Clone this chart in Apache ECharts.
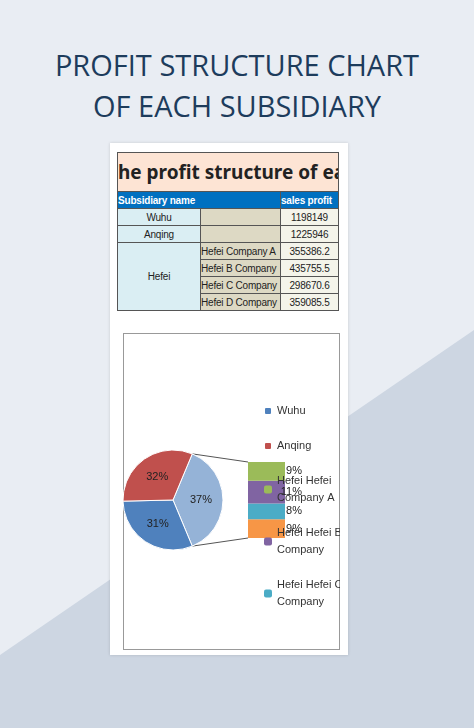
<!DOCTYPE html>
<html><head><meta charset="utf-8">
<script src="https://cdn.jsdelivr.net/npm/echarts@6/dist/echarts.min.js"></script>
<style>
body{margin:0;width:474px;height:728px;position:relative;overflow:hidden;background:#e9edf3;font-family:"Noto Sans","Open Sans",sans-serif}
#diag{position:absolute;left:0;top:0;width:474px;height:728px;background:#cdd6e2;clip-path:polygon(474px 330px,474px 728px,0 728px,0 655px)}
#title{position:absolute;left:0;width:474px;top:44px;text-align:center;color:#1d3c5c;font-size:29px;line-height:41px;font-family:"Open Sans",sans-serif}
#card{position:absolute;left:110px;top:143px;width:238px;height:512px;background:#fff;box-shadow:0 0 3px rgba(0,0,0,0.15)}
#tbl{position:absolute;left:117px;top:152px;width:221px;border-collapse:collapse;table-layout:fixed;font-size:10px;letter-spacing:-0.2px;color:#222;font-family:"Liberation Sans",sans-serif}
#tbl td{border:1px solid #555;height:16px;padding:0;white-space:nowrap;overflow:hidden;text-align:center}
#chartbox{position:absolute;left:123px;top:333px;width:217px;height:317px;border:1px solid #999;box-sizing:border-box}
#chart{position:absolute;left:123px;top:333px;width:217px;height:317px}
</style></head><body>
<div id="diag"></div>
<div id="title">PROFIT STRUCTURE CHART<br>OF EACH SUBSIDIARY</div>
<div id="card"></div>
<table id="tbl">
<colgroup><col style="width:83px"><col style="width:80px"><col style="width:58px"></colgroup>
<tr><td colspan="3" style="height:38px;background:#fde4d4;font-weight:bold;font-size:19px;letter-spacing:0;text-align:left;text-indent:-11px;font-family:'Noto Sans',sans-serif">The profit structure of each subsidiary</td></tr>
<tr><td colspan="2" style="background:#0070c0;color:#fff;font-weight:bold;text-align:left">Subsidiary name</td><td style="background:#0070c0;color:#fff;font-weight:bold;text-align:left">sales profit</td></tr>
<tr><td style="background:#daeef3">Wuhu</td><td style="background:#ddd9c4"></td><td style="background:#f4f4ea">1198149</td></tr>
<tr><td style="background:#daeef3">Anqing</td><td style="background:#ddd9c4"></td><td style="background:#f4f4ea">1225946</td></tr>
<tr><td rowspan="4" style="background:#daeef3">Hefei</td><td style="background:#ddd9c4;text-align:left">Hefei Company A</td><td style="background:#f4f4ea">355386.2</td></tr>
<tr><td style="background:#ddd9c4;text-align:left">Hefei B Company</td><td style="background:#f4f4ea">435755.5</td></tr>
<tr><td style="background:#ddd9c4;text-align:left">Hefei C Company</td><td style="background:#f4f4ea">298670.6</td></tr>
<tr><td style="background:#ddd9c4;text-align:left">Hefei D Company</td><td style="background:#f4f4ea">359085.5</td></tr>
</table>
<div id="chartbox"></div>
<div id="chart"></div>
<script>
const mainNames=['Wuhu','Anqing'];
const mainValues=[1198149,1225946];
const subNames=['Hefei Hefei Company A','Hefei Hefei B Company','Hefei Hefei C Company','Hefei Hefei D Company'];
const subValues=[355386.2,435755.5,298670.6,359085.5];
const colors={'Wuhu':'#4f81bd','Anqing':'#c0504d','Hefei':'#95b3d7','Hefei Hefei Company A':'#9bbb59','Hefei Hefei B Company':'#8064a2','Hefei Hefei C Company':'#4bacc6','Hefei Hefei D Company':'#f79646'};
const hefei=subValues.reduce((a,b)=>a+b,0);
const total=hefei+mainValues.reduce((a,b)=>a+b,0);
const pct=v=>Math.round(v/total*100)+'%';
const hefeiAngle=hefei/total*360;
const ch=echarts.init(document.getElementById('chart'));
const legendLabels={'Wuhu':'Wuhu','Anqing':'Anqing','Hefei Hefei Company A':'Hefei Hefei\nCompany A','Hefei Hefei B Company':'Hefei Hefei B\nCompany','Hefei Hefei C Company':'Hefei Hefei C\nCompany','Hefei Hefei D Company':'Hefei Hefei D\nCompany'};
const cx=50,cy=167,R=50;
const barSeries=subNames.map((n,i)=>({name:n,type:'bar',stack:'s',barWidth:'100%',xAxisIndex:0,yAxisIndex:0,
 data:[subValues[i]],itemStyle:{color:colors[n]},
 label:{show:true,position:'insideRight',offset:[22,0],formatter:()=>pct(subValues[i]),color:'#222',fontSize:11}})).reverse();
ch.setOption({
 animation:false,
 legend:{orient:'vertical',left:135,top:56,itemWidth:8,itemHeight:8,itemGap:18,
  data:[...mainNames,...subNames],formatter:n=>legendLabels[n],
  textStyle:{fontSize:11,color:'#333',lineHeight:17,fontFamily:'Liberation Sans'}},
 grid:{left:125,top:129,width:37,height:76},
 xAxis:{type:'category',data:['Hefei'],show:false},
 yAxis:{type:'value',min:0,max:hefei,show:false},
 series:[{type:'pie',center:[cx,cy],radius:R,startAngle:hefeiAngle/2,clockwise:true,
   data:[{name:'Hefei',value:hefei},{name:mainNames[0],value:mainValues[0]},{name:mainNames[1],value:mainValues[1]}],
   itemStyle:{color:p=>colors[p.name],borderColor:'#fff',borderWidth:1},
   label:{show:true,position:'inside',formatter:p=>pct(p.value),color:'#222',fontSize:11},
   labelLine:{show:false},legendHoverLink:false},
  ...barSeries]
});
const a=hefeiAngle/2*Math.PI/180;
const topPt=[cx+R*Math.cos(a),cy-R*Math.sin(a)],botPt=[cx+R*Math.cos(a),cy+R*Math.sin(a)];
const tl=ch.convertToPixel({gridIndex:0},[0,hefei]),bl=ch.convertToPixel({gridIndex:0},[0,0]);
const lx=tl[0]-18.5;
ch.setOption({graphic:[
 {type:'line',shape:{x1:topPt[0],y1:topPt[1],x2:lx,y2:tl[1]},style:{stroke:'#555',lineWidth:1}},
 {type:'line',shape:{x1:botPt[0],y1:botPt[1],x2:lx,y2:bl[1]},style:{stroke:'#555',lineWidth:1}}]});
</script>
</body></html>
